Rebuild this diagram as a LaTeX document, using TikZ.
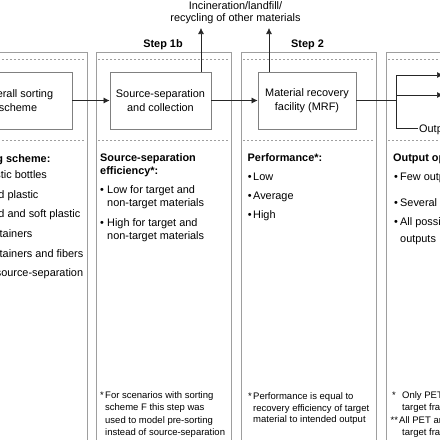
\documentclass[tikz,border=0pt]{standalone}
\usepackage{fontspec}
\setmainfont{Liberation Sans}
\usetikzlibrary{arrows.meta}
\begin{document}
\begin{tikzpicture}[x=1pt,y=-1pt,
  panel/.style={draw=black!38, line width=0.8pt},
  sepline/.style={draw=black!38, line width=0.5pt, dash pattern=on 2pt off 2pt},
  procbox/.style={draw=black!50, line width=0.8pt, fill=white, minimum height=57pt,
    align=center, inner sep=0pt, text=black, font=\fontsize{10.9}{13.5}\selectfont},
  conn/.style={draw=black!85, line width=0.7pt},
  arr/.style={conn, -{Latex[length=6pt,width=6pt]}},
  txt/.style={anchor=base west, inner sep=0pt, text=black, font=\fontsize{10.9}{13.5}\selectfont},
  hd/.style={txt, font=\fontsize{10.9}{13.5}\selectfont\bfseries},
  fn/.style={anchor=base west, inner sep=0pt, text=black, font=\fontsize{9.5}{12.3}\selectfont}]
\useasboundingbox (0,0) rectangle (440,440);
\clip (0,0) rectangle (440,440);
\fill[white] (0,0) rectangle (440,440);

% panels
\foreach \L in {-48,96,241,386} {
  \draw[panel] (\L,450) -- (\L,52) -- ({\L+135},52) -- ({\L+135},450);
  \draw[sepline] ({\L+2},59) -- ({\L+133},59);
  \draw[sepline] ({\L+2},140) -- ({\L+133},140);
}

% step labels
\node[hd, anchor=base] (s1b) at (163,47) {Step 1b};
\node[hd, anchor=base] (s2) at (307.5,47) {Step 2};

% top text
\node[txt, anchor=base] (inc1) at (235.5,9) {Incineration/landfill/};
\node[txt, anchor=base] (inc2) at (235.5,21) {recycling of other materials};

% boxes
\node[procbox, minimum width=108pt] (b1) at (18,100.5) {Overall sorting\\scheme};
\node[procbox, minimum width=101pt] (b1b) at (160.5,100.5) {Source-separation\\and collection};
\node[procbox, minimum width=98pt] (mrf) at (307,100.5) {Material recovery\\facility (MRF)};

% connectors
\draw[arr] (b1.east) -- (b1b.west);
\draw[arr] (b1b.east) -- (mrf.west);
\coordinate (up1) at (201,28);
\coordinate (up2) at (269,28);
\draw[arr] (b1b.north -| up1) -- (up1);
\draw[arr] (mrf.north -| up2) -- (up2);

\coordinate (jn) at (396,100.5);
\coordinate (jt) at (396,75);
\coordinate (jm) at (396,95);
\coordinate (jb) at (396,128);
\coordinate (o1) at (443,75);
\coordinate (o2) at (443,95);
\coordinate (o3) at (418,128);
\draw[conn] (mrf.east) -- (jn);
\draw[conn] (jt) -- (jb);
\draw[arr] (jt) -- (o1);
\draw[arr] (jm) -- (o2);
\draw[conn] (jb) -- (o3);
\node[txt] (out3) at (419,132) {Output};

% left panel
\node[hd] (h1) at (-35.2,162) {Sorting scheme:};
\node[txt] (a1b) at (-27.5,178) {•};
\node[txt] (a1) at (-20.5,178) {Plastic bottles};
\node[txt] (a2b) at (-27.5,198) {•};
\node[txt] (a2) at (-20.5,198) {Rigid plastic};
\node[txt] (a3b) at (-27.5,217) {•};
\node[txt] (a3) at (-20.5,217) {Rigid and soft plastic};
\node[txt] (a4b) at (-27.5,237) {•};
\node[txt] (a4) at (-20.5,237) {Containers};
\node[txt] (a5b) at (-27.5,257) {•};
\node[txt] (a5) at (-20.5,257) {Containers and fibers};
\node[txt, anchor=base east] (a6) at (83.3,276) {No source-separation};

% panel 1b
\node[hd] (h2a) at (100,161) {Source-separation};
\node[hd] (h2b) at (100,174.5) {efficiency*:};
\node[txt] (c1b) at (100,193) {•};
\node[txt] (c1) at (107,193) {Low for target and};
\node[txt] (c1x) at (107,206.5) {non-target materials};
\node[txt] (c2b) at (100,226) {•};
\node[txt] (c2) at (107,226) {High for target and};
\node[txt] (c2x) at (107,239.5) {non-target materials};
\node[fn] (f1s) at (100,398.5) {*};
\node[fn] (f1a) at (105,398.5) {For scenarios with sorting};
\node[fn] (f1b) at (105,410.8) {scheme F this step was};
\node[fn] (f1c) at (105,423.1) {used to model pre-sorting};
\node[fn] (f1d) at (105,435.4) {instead of source-separation};

% panel 2
\node[hd] (h3) at (247.5,161) {Performance*:};
\node[txt] (d1b) at (247.6,180) {•};
\node[txt] (d1) at (253,180) {Low};
\node[txt] (d2b) at (247.6,199) {•};
\node[txt] (d2) at (253,199) {Average};
\node[txt] (d3b) at (247.6,218) {•};
\node[txt] (d3) at (253,218) {High};
\node[fn] (f2s) at (248,399.5) {*};
\node[fn] (f2a) at (253,399.5) {Performance is equal to};
\node[fn] (f2b) at (253,411) {recovery efficiency of target};
\node[fn] (f2c) at (253,422.7) {material to intended output};

% panel 3
\node[hd] (h4) at (393,161) {Output options:};
\node[txt] (e1b) at (393.8,180) {•};
\node[txt] (e1) at (400,180) {Few outputs};
\node[txt] (e2b) at (393.8,206) {•};
\node[txt] (e2) at (400,206) {Several outputs};
\node[txt] (e3b) at (393.8,225) {•};
\node[txt] (e3) at (400,225) {All possible};
\node[txt] (e3x) at (400,242.5) {outputs};
\node[fn] (f3s) at (392,398.5) {*};
\node[fn] (f3a) at (402,398.5) {Only PET};
\node[fn] (f3b) at (402,410.8) {target fraction};
\node[fn] (f3t) at (390.5,423.1) {**};
\node[fn] (f3c) at (399,423.1) {All PET and};
\node[fn] (f3d) at (402,435.4) {target fraction};
\end{tikzpicture}
\end{document}
